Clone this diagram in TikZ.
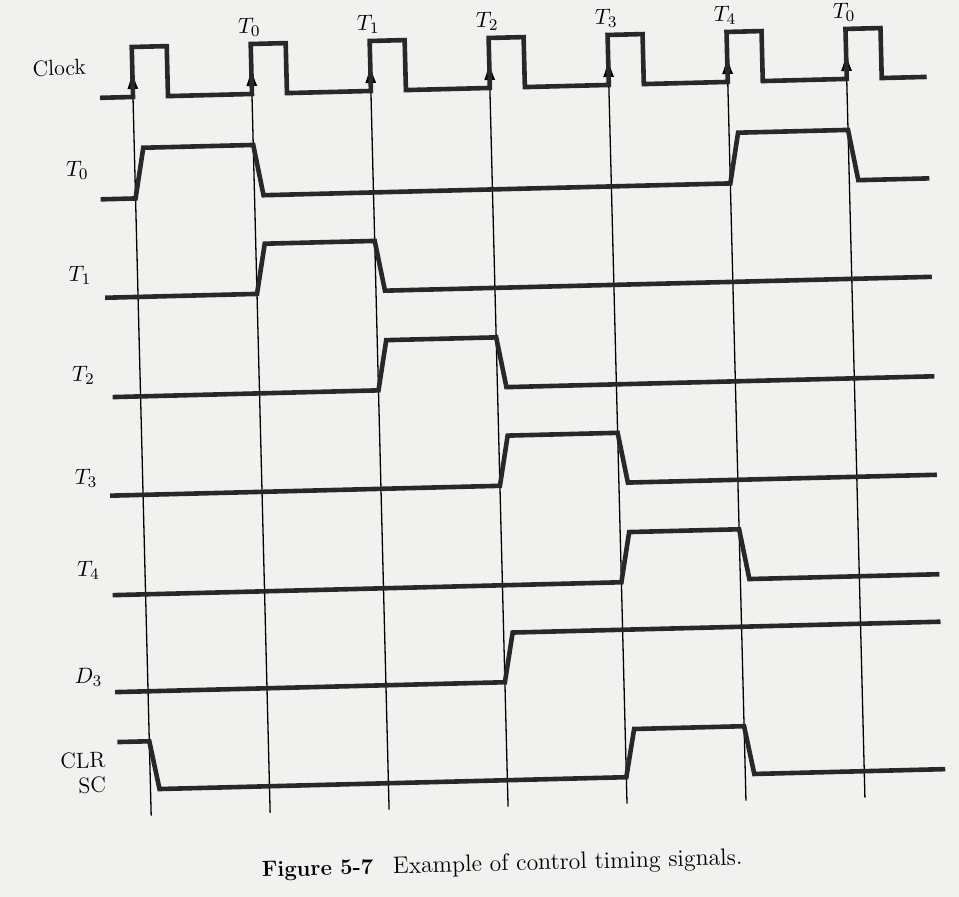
\documentclass[tikz,border=0pt]{standalone}
\usetikzlibrary{arrows.meta}
\definecolor{paper}{RGB}{241,241,239}
\definecolor{ink}{RGB}{40,40,40}
\begin{document}
\begin{tikzpicture}[x=0.5pt,y=0.5pt,
  sig/.style={line width=2.3pt, draw=ink, line join=miter, line cap=butt},
  guide/.style={line width=0.65pt, draw=black, -{Latex[length=9pt,width=5.5pt]}},
  lbl/.style={font=\fontsize{11}{12.5}\selectfont, anchor=east, inner sep=0pt, align=right},
  toplbl/.style={font=\fontsize{11}{12.5}\selectfont, inner sep=0pt},
  captxt/.style={font=\fontsize{11}{13}\selectfont, anchor=west, inner sep=0pt}]
\path[use as bounding box, fill=paper] (0,-897) rectangle (959,0);
\begin{scope}[shift={(133,-97)}, rotate=1.45, transform shape]
  % guide lines from each clock rising edge
  \foreach \k in {0,...,6} {
    \coordinate (g\k b) at ({119*\k},-719);
    \coordinate (g\k t) at ({119*\k},26);
    \draw[guide] (g\k b) -- (g\k t);
  }
  % clock
  \draw[sig] (-33,0) \foreach \k in {0,...,6} { -- ({119*\k},0) -- ({119*\k},50) -- ({119*\k+35},50) -- ({119*\k+35},0) } -- (794,0);
  % T0
  \draw[sig] (-35,-101.5) -- (0,-101.5) -- (9,-51) -- (119,-51) -- (128,-101.5) -- (595,-101.5) -- (604,-51) -- (714,-51) -- (723,-101.5) -- (794,-101.5);
  % T1
  \draw[sig] (-33,-200) -- (119,-200) -- (128,-150) -- (238,-150) -- (247,-200) -- (794,-200);
  % T2
  \draw[sig] (-28,-299.5) -- (238,-299.5) -- (247,-249.5) -- (357,-249.5) -- (366,-299.5) -- (794,-299.5);
  % T3
  \draw[sig] (-33,-398) -- (357,-398) -- (366,-348) -- (476,-348) -- (485,-398) -- (794,-398);
  % T4
  \draw[sig] (-33,-497.5) -- (476,-497.5) -- (485,-447.5) -- (595,-447.5) -- (604,-497.5) -- (794,-497.5);
  % D3
  \draw[sig] (-33,-594.5) -- (357,-594.5) -- (366,-545) -- (794,-545);
  % CLR SC
  \draw[sig] (-32,-644.5) -- (0,-644.5) -- (9,-692.5) -- (476,-692.5) -- (485,-644.5) -- (595,-644.5) -- (604,-692.5) -- (795,-692.5);
  % left labels
  \node[lbl] (lclk) at (-46,31) {Clock};
  \node[lbl] (lt0) at (-46,-72) {$T_0$};
  \node[lbl] (lt1) at (-46,-177) {$T_1$};
  \node[lbl] (lt2) at (-45,-277) {$T_2$};
  \node[lbl] (lt3) at (-45,-380) {$T_3$};
  \node[lbl] (lt4) at (-45,-472) {$T_4$};
  \node[lbl] (ld3) at (-45,-579) {$D_3$};
  \node[lbl] (lclr) at (-44,-674.5) {CLR\\SC};
  % top labels
  \node[toplbl] (tp1) at (118,67) {$T_0$};
  \node[toplbl] (tp2) at (237,67) {$T_1$};
  \node[toplbl] (tp3) at (356,67) {$T_2$};
  \node[toplbl] (tp4) at (475,67) {$T_3$};
  \node[toplbl] (tp5) at (594,67) {$T_4$};
  \node[toplbl] (tp6) at (713,67) {$T_0$};
  % caption
  \node[captxt] (caption) at (109,-777) {\textbf{Figure 5-7}\hspace{0.9em}{\fontsize{11.9}{13}\selectfont Example of control timing signals.}};
\end{scope}
\end{tikzpicture}
\end{document}
